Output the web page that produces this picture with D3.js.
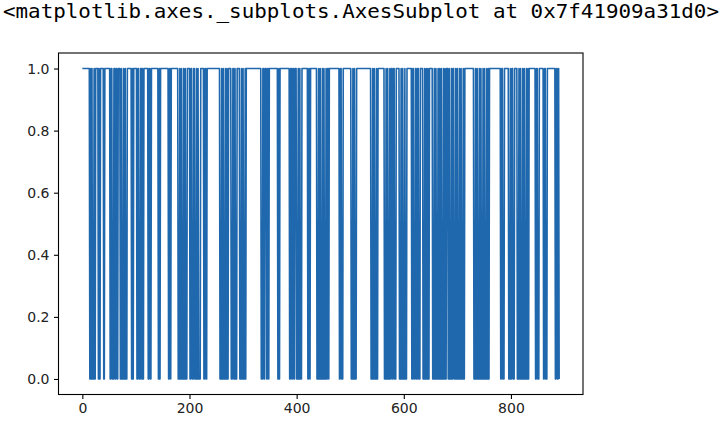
<!DOCTYPE html>
<html>
<head>
<meta charset="utf-8">
<script src="https://cdn.jsdelivr.net/npm/d3@7"></script>
<style>
  html, body { margin: 0; padding: 0; background: #fff; }
  svg { display: block; }
</style>
</head>
<body>
<svg id="chart" width="726" height="438"></svg>
<script>
// ---- data ----
const headerText = "<matplotlib.axes._subplots.AxesSubplot at 0x7f41909a31d0>";
const nPoints = 891;
// index ranges [start, end] (inclusive) where the series is 0; everywhere else it is 1
const zeroRuns = [
  [14,15],[17,17],[19,21],[23,24],
  [30,30],[32,33],
  [40,41],
  [52,53],[56,58],
  [61,62],[65,66],
  [71,72],[74,76],[78,79],[81,83],
  [92,93],[95,95],
  [102,103],[106,108],
  [111,111],[113,114],
  [123,124],[127,128],
  [142,143],[145,145],
  [161,162],[165,165],
  [179,181],[183,184],[186,188],[190,191],[193,195],
  [201,202],[205,207],
  [210,212],[214,215],[217,220],
  [227,228],[231,232],
  [257,259],[261,262],[264,266],[268,269],[271,272],
  [278,280],[283,284],[286,288],
  [294,296],[298,299],[301,303],[305,305],
  [334,336],[339,340],
  [344,345],[348,348],
  [365,366],[368,368],
  [387,388],[391,392],
  [395,396],
  [400,402],[404,405],[407,409],
  [421,422],[425,425],
  [438,440],[442,443],[445,447],[449,450],[452,454],
  [456,457],[460,460],
  [480,481],[484,486],
  [502,504],[506,507],[509,511],
  [539,541],[543,544],[546,548],[550,551],
  [564,566],[568,569],[571,573],[575,576],
  [579,580],[583,585],
  [592,594],[596,597],[599,601],[603,605],
  [615,616],[619,621],
  [624,625],[628,630],
  [636,638],[640,641],[643,644],[646,647],
  [654,656],[658,659],[661,663],[665,666],
  [668,669],[671,673],[675,676],[678,679],
  [683,684],[686,688],[690,691],
  [694,696],[698,699],[701,703],[705,706],[708,710],[712,713],
  [731,733],[735,736],[738,740],[742,743],[745,747],[749,750],[752,754],[756,757],[759,759],
  [781,782],[785,787],
  [796,798],[800,801],[804,806],
  [812,814],[816,817],[819,821],[823,824],[826,828],[830,831],[833,833],
  [846,847],[850,852],
  [861,862],[865,867],
  [883,884],[887,888],[890,890]
];
const xTicks = [0, 200, 400, 600, 800];
const yTicks = [0.0, 0.2, 0.4, 0.6, 0.8, 1.0];

// decode series from the run table
const values = new Array(nPoints).fill(1);
zeroRuns.forEach(([a, b]) => { for (let i = a; i <= b; i++) values[i] = 0; });
const series = values.map((v, i) => ({ i, v }));

// ---- layout ----
const svg = d3.select("#chart");
const plotL = 58.5, plotR = 583, plotT = 53, plotB = 394.5;

const x = d3.scaleLinear()
  .domain([-0.05 * (nPoints - 1), (nPoints - 1) * 1.05])
  .range([plotL, plotR]);
const y = d3.scaleLinear()
  .domain([-0.05, 1.05])
  .range([plotB, plotT]);

// header text (notebook output repr)
svg.append("text")
  .attr("x", 3).attr("y", 18)
  .attr("font-family", "'DejaVu Sans Mono', 'Liberation Mono', monospace")
  .attr("font-size", 19)
  .attr("textLength", 716)
  .attr("lengthAdjust", "spacingAndGlyphs")
  .attr("fill", "#000")
  .text(headerText);

// line
const line = d3.line().x(d => x(d.i)).y(d => y(d.v));
svg.append("path")
  .datum(series)
  .attr("fill", "none")
  .attr("stroke", "#2068ad")
  .attr("stroke-width", 1.6)
  .attr("stroke-linejoin", "round")
  .attr("stroke-linecap", "butt")
  .attr("d", line);

// axes
const fontFam = "'DejaVu Sans', sans-serif";
const xAxis = d3.axisBottom(x).tickValues(xTicks).tickFormat(d3.format("d"))
  .tickSizeInner(4.5).tickSizeOuter(0).tickPadding(4.5);
const yAxis = d3.axisLeft(y).tickValues(yTicks).tickFormat(d3.format(".1f"))
  .tickSizeInner(4.5).tickSizeOuter(0).tickPadding(4.5);

const gx = svg.append("g").attr("transform", `translate(0,${plotB})`).call(xAxis);
const gy = svg.append("g").attr("transform", `translate(${plotL},0)`).call(yAxis);
[gx, gy].forEach(g => {
  g.select(".domain").remove();
  g.selectAll(".tick line").attr("stroke", "#000").attr("stroke-width", 1.1);
  g.selectAll(".tick text").attr("font-family", fontFam).attr("font-size", 14).attr("fill", "#222");
});

// frame (spines)
svg.append("rect")
  .attr("x", plotL).attr("y", plotT)
  .attr("width", plotR - plotL).attr("height", plotB - plotT)
  .attr("fill", "none").attr("stroke", "#000").attr("stroke-width", 1.1);
</script>
</body>
</html>
